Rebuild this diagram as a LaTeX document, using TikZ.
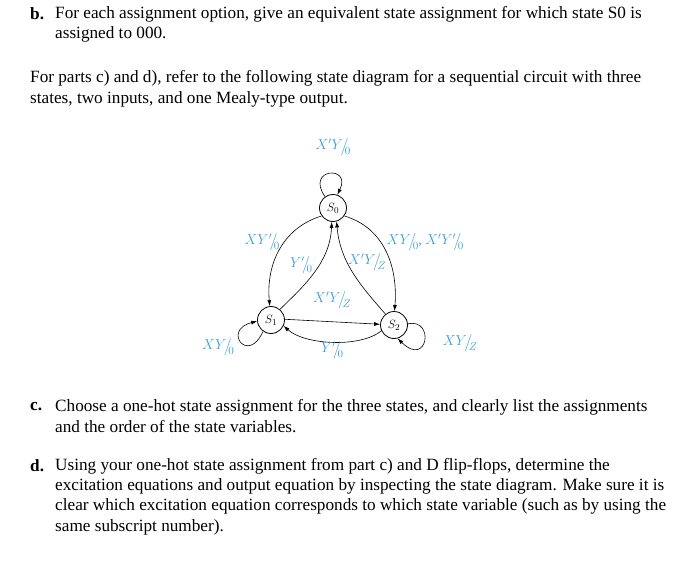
\documentclass[tikz,border=0pt]{standalone}
\usepackage{fontspec}
\setmainfont{Liberation Serif}
\usetikzlibrary{arrows.meta}
\begin{document}
\begin{tikzpicture}[x=1pt,y=-1pt,
  txt/.style={anchor=west,inner sep=0pt,font=\fontsize{17.2}{20}\selectfont},
  st/.style={circle,draw,thick,minimum size=27pt,inner sep=0pt,font=\fontsize{13}{13}\selectfont},
  lb/.style={text={rgb,255:red,60;green,160;blue,210},inner sep=1pt,font=\fontsize{14}{14}\selectfont},
  ar/.style={-{Latex[length=6pt,width=4pt]},line width=0.6pt}]
\useasboundingbox (0,0) rectangle (700,567);
\newcommand{\fr}[2]{$#1\kern-2.5pt\raisebox{-0.25ex}{\fontsize{18}{18}\selectfont$/$}\kern-3.5pt\lower0.7ex\hbox{\fontsize{11}{11}\selectfont$#2$}$}
\node[txt,font=\fontsize{17.2}{20}\selectfont\bfseries] (lb1) at (30,14) {b.};
\node[txt] (t1) at (55,14) {For each assignment option, give an equivalent state assignment for which state S0 is};
\node[txt] (t2) at (55,34) {assigned to 000.};
\node[txt] (t3) at (30,78) {For parts c) and d), refer to the following state diagram for a sequential circuit with three};
\node[txt] (t4) at (30,99) {states, two inputs, and one Mealy-type output.};
\node[txt,font=\fontsize{17.2}{20}\selectfont\bfseries] (lc) at (30,407) {c.};
\node[txt] (c1) at (55,407) {Choose a one-hot state assignment for the three states, and clearly list the assignments};
\node[txt] (c2) at (55,427) {and the order of the state variables.};
\node[txt,font=\fontsize{17.2}{20}\selectfont\bfseries] (ld) at (30,466) {d.};
\node[txt] (d1) at (55,466) {Using your one-hot state assignment from part c) and D flip-flops, determine the};
\node[txt] (d2) at (55,486) {excitation equations and output equation by inspecting the state diagram. Make sure it is};
\node[txt] (d3) at (55,506) {clear which excitation equation corresponds to which state variable (such as by using the};
\node[txt] (d4) at (55,527) {same subscript number).};

\node[st] (s0) at (333,208) {$S_0$};
\node[st] (s1) at (271,320) {$S_1$};
\node[st] (s2) at (394,325) {$S_2$};
\draw[ar] (s0.125) .. controls (305,168) and (352,165) .. (s0.72);
\draw[ar] (s0.215) .. controls (282,228) and (266,265) .. (s1.95);
\draw[ar] (s1.50) .. controls (305,285) and (330,262) .. (s0.265);
\draw[ar] (s0.325) .. controls (385,228) and (398,268) .. (s2.88);
\draw[ar] (s2.128) .. controls (360,285) and (340,262) .. (s0.285);
\draw[ar] (s1.3) -- (s2.177);
\draw[ar] (s2.205) .. controls (360,348) and (305,345) .. (s1.335);
\draw[ar] (s1.235) .. controls (248,365) and (222,330) .. (s1.185);
\draw[ar] (s2.5) .. controls (435,318) and (428,368) .. (s2.285);
\node[lb] (l0) at (333,147) {\fr{X'Y}{0}};
\node[lb] (l1) at (262,242) {\fr{XY'}{0}};
\node[lb] (l2) at (301,265) {\fr{Y'}{0}};
\node[lb] (l3) at (367,262) {\fr{X'Y}{Z}};
\node[lb] (l4) at (425,242) {\fr{XY}{0}, \fr{X'Y'}{0}};
\node[lb] (l5) at (332,300) {\fr{X'Y}{Z}};
\node[lb] (l6) at (332,350) {\fr{Y'}{0}};
\node[lb] (l7) at (218,347) {\fr{XY}{0}};
\node[lb] (l8) at (460,343) {\fr{XY}{Z}};
\end{tikzpicture}
\end{document}
